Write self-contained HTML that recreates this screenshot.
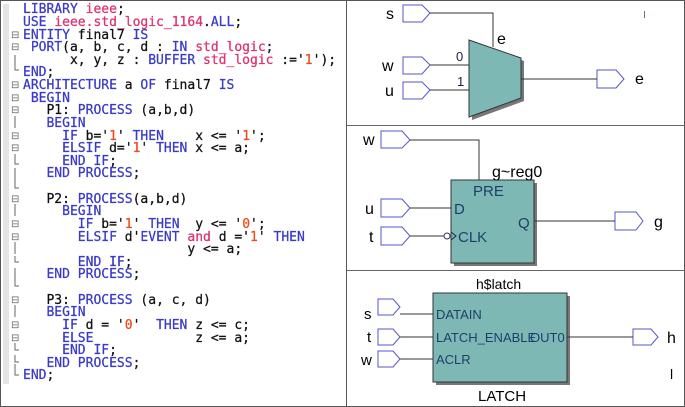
<!DOCTYPE html>
<html><head><meta charset="utf-8"><style>
body{margin:0;width:685px;height:407px;background:#fff;overflow:hidden;position:relative;font-family:"Liberation Sans",sans-serif}
.code{position:absolute;left:0;top:0;width:685px;height:407px}
.l{position:absolute;left:23px;white-space:pre;font-family:"DejaVu Sans Mono",monospace;font-size:13px;letter-spacing:0px;color:#111;line-height:13px;-webkit-text-stroke:0.25px}
.k{color:#3a3ac8}.r{color:#e0306a}.n{color:#f04a1a}
.f{position:absolute;left:11px;font-size:10px;color:#666;font-family:"DejaVu Sans",sans-serif;line-height:13px}
</style></head><body>
<svg width="685" height="407" style="position:absolute;left:0;top:0">
<rect x="0.5" y="0.5" width="684" height="406" fill="#fff" stroke="#555"/>
<rect x="3" y="4" width="6" height="380" fill="#e4e4e4"/>
<g stroke="#666" fill="none">
<polyline points="15,55 15,70 19,70"/>
<line x1="15" y1="116" x2="15" y2="128"/>
<polyline points="15,154 15,164 19,164"/>
<polyline points="15,168 15,188 19,188"/>
<line x1="15" y1="204" x2="15" y2="216"/>
<line x1="15" y1="242" x2="15" y2="254"/>
<polyline points="15,256 15,262 19,262"/>
<polyline points="15,268 15,286 19,286"/>
<line x1="15" y1="305" x2="15" y2="317"/>
<polyline points="15,343 15,350 19,350"/>
<polyline points="15,355 15,362 19,362"/>
<polyline points="15,364 15,375 19,375"/>
</g>
<line x1="346.5" y1="0" x2="346.5" y2="407" stroke="#555"/>
<line x1="347" y1="125.5" x2="685" y2="125.5" stroke="#666"/>
<line x1="347" y1="270.5" x2="685" y2="270.5" stroke="#666"/>
<g font-family="Liberation Sans,sans-serif" font-size="16" fill="#000">
<polygon points="472,43 524,61 524,101 472,120" fill="#777"/>
<polygon points="469,40 521,58 521,98 469,117" fill="#7eb8b5" stroke="#333"/>
<g fill="#fff" stroke="#5555cc">
<polygon points="403,5 422,5 430,13 422,22 403,22"/>
<polygon points="403,57 422,57 430,65 422,74 403,74"/>
<polygon points="403,82 422,82 430,90 422,99 403,99"/>
<polygon points="597,70 616,70 624,79 616,88 597,88"/>
</g>
<g stroke="#333" fill="none">
<polyline points="430,13 493,13 493,47"/>
<line x1="430" y1="65" x2="469" y2="65"/>
<line x1="430" y1="90" x2="469" y2="90"/>
<line x1="521" y1="79" x2="597" y2="79"/>
</g>
<text x="386" y="19">s</text><text x="382" y="71">w</text><text x="385" y="96">u</text>
<text x="497" y="44">e</text><text x="635" y="84">e</text>
<text x="456" y="61" font-size="13" fill="#224">0</text><text x="457" y="86" font-size="13" fill="#224">1</text>
<line x1="644.5" y1="11" x2="644.5" y2="18" stroke="#66a"/>
<rect x="454" y="183" width="83" height="83" fill="#777"/>
<rect x="451" y="180" width="83" height="83" fill="#7eb8b5" stroke="#333"/>
<g fill="#fff" stroke="#5555cc">
<polygon points="381,131 402,131 410,140 402,148 381,148"/>
<polygon points="381,199 402,199 410,208 402,217 381,217"/>
<polygon points="381,227 402,227 410,236 402,245 381,245"/>
<polygon points="615,212 636,212 643,221 636,230 615,230"/>
</g>
<g stroke="#333" fill="none">
<polyline points="410,140 479,140 479,180"/>
<line x1="410" y1="208" x2="451" y2="208"/>
<line x1="410" y1="236" x2="444" y2="236"/>
<line x1="534" y1="221" x2="615" y2="221"/>
</g>
<circle cx="447" cy="236" r="3" fill="#fff" stroke="#335"/>
<polyline points="451,232 456,236 451,240" fill="none" stroke="#224"/>
<text x="363" y="145">w</text><text x="365" y="214">u</text><text x="369" y="242">t</text>
<text x="492" y="177">g~reg0</text><text x="654" y="227">g</text>
<g fill="#1e3f6a" font-size="15"><text x="473" y="196">PRE</text><text x="454" y="214">D</text><text x="518" y="228">Q</text><text x="458" y="242">CLK</text></g>
<rect x="436" y="296" width="134" height="89" fill="#777"/>
<rect x="433" y="293" width="134" height="89" fill="#7eb8b5" stroke="#333"/>
<g fill="#fff" stroke="#5555cc">
<polygon points="378,299 393,299 400,307 393,315 378,315"/>
<polygon points="378,329 393,329 400,337 393,345 378,345"/>
<polygon points="378,351 393,351 400,359 393,367 378,367"/>
<polygon points="633,329 651,329 658,337 651,345 633,345"/>
</g>
<g stroke="#333" fill="none">
<line x1="400" y1="314" x2="433" y2="314"/>
<line x1="400" y1="337" x2="433" y2="337"/>
<line x1="400" y1="359" x2="433" y2="359"/>
<line x1="567" y1="337" x2="633" y2="337"/>
</g>
<text x="364" y="319" font-size="15">s</text><text x="367" y="342" font-size="15">t</text><text x="361" y="365" font-size="15">w</text>
<text x="667" y="343">h</text><text x="476" y="289" font-size="14">h$latch</text><text x="478" y="401" font-size="15">LATCH</text>
<text x="670" y="379" font-size="14">l</text>
<g fill="#1e3f6a" font-size="13"><text x="436" y="319">DATAIN</text><text x="436" y="342">LATCH_ENABLE</text><text x="530" y="342">OUT0</text><text x="436" y="364">ACLR</text></g>
</g>
</svg>
<div class="code">
<div class="l" style="top:3px"><span class="k">LIBRARY</span> <span class="r">ieee</span>;</div>
<div class="l" style="top:16px"><span class="k">USE</span> <span class="r">ieee.std_logic_1164</span>.<span class="k">ALL</span>;</div>
<div class="f" style="top:29px">⊟</div><div class="l" style="top:29px"><span class="k">ENTITY</span> final7 <span class="k">IS</span></div>
<div class="f" style="top:41px">⊟</div><div class="l" style="top:41px"> <span class="k">PORT</span>(a, b, c, d : <span class="k">IN</span> <span class="r">std_logic</span>;</div>
<div class="l" style="top:54px">      x, y, z : <span class="k">BUFFER</span> <span class="r">std_logic</span> :='<span class="n">1</span>');</div>
<div class="l" style="top:66px"><span class="k">END</span>;</div>
<div class="f" style="top:79px">⊟</div><div class="l" style="top:79px"><span class="k">ARCHITECTURE</span> a <span class="k">OF</span> final7 <span class="k">IS</span></div>
<div class="f" style="top:92px">⊟</div><div class="l" style="top:92px"> <span class="k">BEGIN</span></div>
<div class="f" style="top:104px">⊟</div><div class="l" style="top:104px">   P1: <span class="k">PROCESS</span> (a,b,d)</div>
<div class="l" style="top:117px">   <span class="k">BEGIN</span></div>
<div class="f" style="top:130px">⊟</div><div class="l" style="top:130px">     <span class="k">IF</span> b='<span class="n">1</span>' <span class="k">THEN</span>    x &lt;= '<span class="n">1</span>';</div>
<div class="f" style="top:142px">⊟</div><div class="l" style="top:142px">     <span class="k">ELSIF</span> d='<span class="n">1</span>' <span class="k">THEN</span> x &lt;= a;</div>
<div class="l" style="top:155px">     <span class="k">END IF</span>;</div>
<div class="l" style="top:167px">   <span class="k">END PROCESS</span>;</div>
<div class="f" style="top:193px">⊟</div><div class="l" style="top:193px">   P2: <span class="k">PROCESS</span>(a,b,d)</div>
<div class="l" style="top:205px">     <span class="k">BEGIN</span></div>
<div class="f" style="top:218px">⊟</div><div class="l" style="top:218px">       <span class="k">IF</span> b='<span class="n">1</span>' <span class="k">THEN</span>  y &lt;= '<span class="n">0</span>';</div>
<div class="f" style="top:231px">⊟</div><div class="l" style="top:231px">       <span class="k">ELSIF</span> d'<span class="k">EVENT</span> <span class="r">and</span> d ='<span class="n">1</span>' <span class="k">THEN</span></div>
<div class="l" style="top:243px">                     y &lt;= a;</div>
<div class="l" style="top:256px">       <span class="k">END IF</span>;</div>
<div class="l" style="top:268px">   <span class="k">END PROCESS</span>;</div>
<div class="f" style="top:294px">⊟</div><div class="l" style="top:294px">   P3: <span class="k">PROCESS</span> (a, c, d)</div>
<div class="l" style="top:306px">   <span class="k">BEGIN</span></div>
<div class="f" style="top:319px">⊟</div><div class="l" style="top:319px">     <span class="k">IF</span> d = '<span class="n">0</span>'  <span class="k">THEN</span> z &lt;= c;</div>
<div class="f" style="top:332px">⊟</div><div class="l" style="top:332px">     <span class="k">ELSE</span>             z &lt;= a;</div>
<div class="l" style="top:344px">     <span class="k">END IF</span>;</div>
<div class="l" style="top:357px">   <span class="k">END PROCESS</span>;</div>
<div class="l" style="top:369px"><span class="k">END</span>;</div>
</div>
</body></html>
